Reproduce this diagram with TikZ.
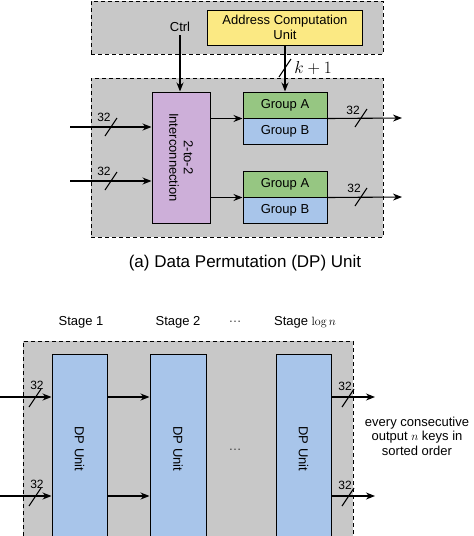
\documentclass[tikz,border=0pt]{standalone}
\usepackage[no-math]{fontspec}
\setmainfont{Liberation Sans}
\usepackage{amsmath}
\usetikzlibrary{arrows.meta}
\definecolor{panelGray}{RGB}{200,200,200}
\definecolor{acuYellow}{RGB}{251,233,131}
\definecolor{grpGreen}{RGB}{150,198,130}
\definecolor{grpBlue}{RGB}{168,197,234}
\definecolor{icPurple}{RGB}{205,175,217}

% bus width mark: slash at coordinate #1, label #3 shifted by #2
\newcommand{\busmark}[3]{%
  \draw[line width=1.1pt] (#1) +(-6,9) -- +(6,-9);
  \node[font=\fontsize{12}{12}\selectfont, inner sep=0pt] (#1l) at ([shift={#2}]#1) {#3};}

\begin{document}
\begin{tikzpicture}[x=1pt, y=-1pt,
  every node/.style={font=\fontsize{13}{14.5}\selectfont, align=center},
  panel/.style={draw, dash pattern=on 4pt off 3pt, fill=panelGray, line width=0.9pt, inner sep=0pt},
  unitbox/.style={draw, line width=1pt, inner sep=0pt},
  wire/.style={-{Stealth[length=9pt,width=7pt]}, line width=1.1pt}]
\useasboundingbox (0,0) rectangle (474,536);

% Address panel
\node[panel, minimum width=292, minimum height=53] (ctlpanel) at (237,27.5) {};
\node[unitbox, fill=acuYellow, minimum width=155, minimum height=35] (acu) at (285,27.5) {Address Computation\\Unit};
\node (ctrl) at (180,27) {Ctrl};

% DP unit panel
\node[panel, minimum width=292, minimum height=159] (dppanel) at (237,157.5) {};
\node[unitbox, fill=icPurple, minimum width=58, minimum height=131] (ic) at (181,157.5) {};
\node[rotate=-90] (ictxt) at (ic) {2-to-2\\Interconnection};
\node[unitbox, fill=grpGreen, minimum width=84, minimum height=26] (ga1) at (285,105) {Group A};
\node[unitbox, fill=grpBlue, minimum width=84, minimum height=26] (gb1) at (285,131) {Group B};
\node[unitbox, fill=grpGreen, minimum width=84, minimum height=26] (ga2) at (285,184) {Group A};
\node[unitbox, fill=grpBlue, minimum width=84, minimum height=26] (gb2) at (285,210) {Group B};

% Inputs and outputs
\coordinate (in1) at (70,127);
\coordinate (in2) at (70,181);
\coordinate (out1) at (402,118);
\coordinate (out2) at (402,197);
\draw[wire] (ctrl.south) -- (ctrl.south |- ic.north);
\draw[wire] (acu.south) -- (ga1.north);
\draw[wire] (in1) -- (in1 -| ic.west);
\draw[wire] (in2) -- (in2 -| ic.west);
\draw[wire] (ic.east |- ga1.south) -- (ga1.south west);
\draw[wire] (ic.east |- ga2.south) -- (ga2.south west);
\draw[wire] (ga1.south east) -- (out1);
\draw[wire] (ga2.south east) -- (out2);

% Bus widths
\coordinate (ka) at (285,68);
\draw[line width=1.1pt] (ka) +(-6,9) -- +(6,-9);
\node[font=\fontsize{17}{17}\selectfont] (kal) at (313,68) {$k+1$};
\coordinate (b1) at (111,127);
\busmark{b1}{(-7,-10)}{32}
\coordinate (b2) at (111,181);
\busmark{b2}{(-7,-10)}{32}
\coordinate (b3) at (361,118);
\busmark{b3}{(-8,-8)}{32}
\coordinate (b4) at (361,197);
\busmark{b4}{(-7,-9)}{32}

\node[font=\fontsize{17}{17}\selectfont] (capa) at (245,263) {(a) Data Permutation (DP) Unit};

% Sorting network stages
\node (st1) at (81,322) {Stage 1};
\node (st2) at (178,322) {Stage 2};
\node[text=darkgray] (stdots) at (235,322) {\dots};
\node (stn) at (305,322) {Stage $\log n$};

\node[panel, minimum width=330, minimum height=220] (sortpanel) at (188,451) {};
\node[unitbox, fill=grpBlue, minimum width=55, minimum height=190] (dp1) at (79.5,449) {};
\node[unitbox, fill=grpBlue, minimum width=56, minimum height=190] (dp2) at (178,449) {};
\node[unitbox, fill=grpBlue, minimum width=55, minimum height=190] (dp3) at (303.5,449) {};
\node[rotate=-90] (dp1txt) at (dp1) {DP Unit};
\node[rotate=-90] (dp2txt) at (dp2) {DP Unit};
\node[rotate=-90] (dp3txt) at (dp3) {DP Unit};
\node[text=darkgray] (middots) at (235,450) {\dots};

\coordinate (sin1) at (0,397);
\coordinate (sin2) at (0,496);
\coordinate (sout1) at (375,397);
\coordinate (sout2) at (375,496);
\draw[wire] (sin1) -- (sin1 -| dp1.west);
\draw[wire] (sin2) -- (sin2 -| dp1.west);
\draw[wire] (dp1.east |- sin1) -- (dp2.west |- sin1);
\draw[wire] (dp1.east |- sin2) -- (dp2.west |- sin2);
\draw[wire] (dp3.east |- sin1) -- (sout1);
\draw[wire] (dp3.east |- sin2) -- (sout2);

\coordinate (b5) at (35,398);
\busmark{b5}{(2,-13)}{32}
\coordinate (b6) at (35,497);
\busmark{b6}{(2,-13)}{32}
\coordinate (b7) at (348,398);
\busmark{b7}{(-3,-12)}{32}
\coordinate (b8) at (348,497);
\busmark{b8}{(-3,-12)}{32}

\node (sorted) at (417,436) {every consecutive\\output $n$ keys in\\sorted order};
\end{tikzpicture}
\end{document}
